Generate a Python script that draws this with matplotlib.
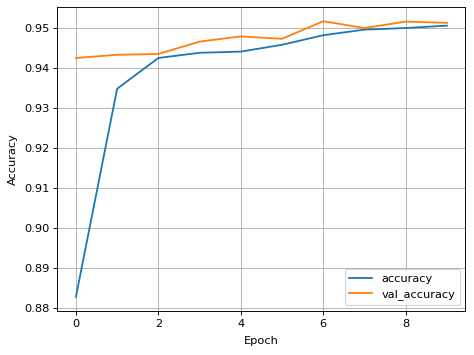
import matplotlib
matplotlib.use("Agg")
import matplotlib.pyplot as plt

# training history
epochs = list(range(10))
accuracy = [0.8827, 0.9348, 0.9425, 0.9438, 0.9441, 0.9458, 0.9482, 0.9496, 0.9500, 0.9506]
val_accuracy = [0.9425, 0.9433, 0.9435, 0.9466, 0.9479, 0.9473, 0.9517, 0.9500, 0.9516, 0.9513]

dpi = 82
fig = plt.figure(figsize=(474 / dpi, 355 / dpi), dpi=dpi)
plt.plot(epochs, accuracy, label='accuracy', linewidth=1.6)
plt.plot(epochs, val_accuracy, label='val_accuracy', linewidth=1.6)
plt.xlabel('Epoch', labelpad=6.5)
plt.ylabel('Accuracy', labelpad=5)
plt.legend(loc='lower right')
plt.grid(True)
plt.subplots_adjust(left=0.121, right=0.982, top=0.979, bottom=0.125)
plt.savefig('out.png', dpi=dpi)
